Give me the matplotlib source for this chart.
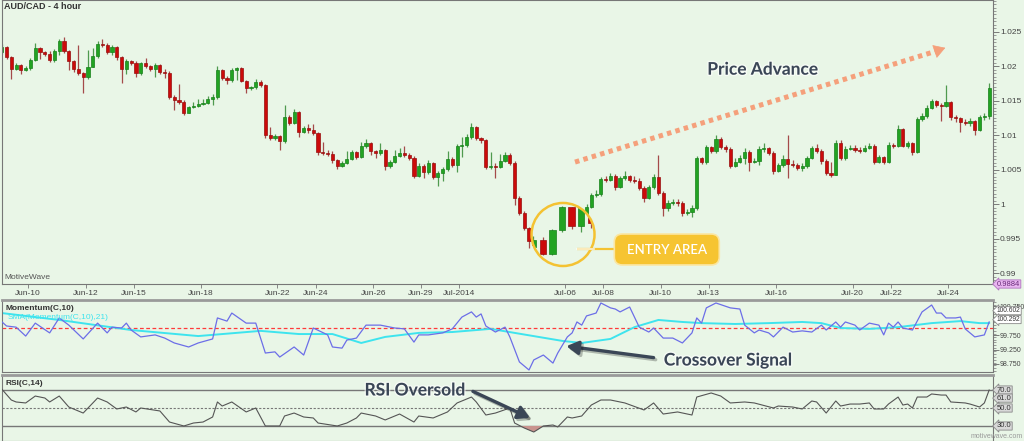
import numpy as np
import matplotlib.pyplot as plt
from matplotlib.patches import Ellipse, FancyBboxPatch
from matplotlib.ticker import FixedLocator, MultipleLocator, FuncFormatter
from matplotlib.transforms import blended_transform_factory
import matplotlib.patheffects as pe

plt.rcParams['font.family'] = ['Liberation Sans', 'DejaVu Sans']

# AUD/CAD 4 hour candles, one per bar index
first_open = 1.0221
closes = [1.0228, 1.0213, 1.0196, 1.0202, 1.0195, 1.0197, 1.0209, 1.0226, 1.0221, 1.0218,
          1.0209, 1.0222, 1.0237, 1.0222, 1.0208, 1.0196, 1.0190, 1.0184, 1.0199, 1.0215,
          1.0232, 1.0231, 1.0221, 1.0228, 1.0213, 1.0196, 1.0208, 1.0205, 1.0190, 1.0205,
          1.0200, 1.0196, 1.0202, 1.0192, 1.0190, 1.0155, 1.0151, 1.0148, 1.0132, 1.0141,
          1.0142, 1.0145, 1.0147, 1.0152, 1.0155, 1.0195, 1.0183, 1.0180, 1.0195, 1.0197,
          1.0179, 1.0168, 1.0170, 1.0177, 1.0173, 1.0100, 1.0096, 1.0099, 1.0092, 1.0126,
          1.0118, 1.0134, 1.0105, 1.0110, 1.0108, 1.0103, 1.0076, 1.0074, 1.0073, 1.0064,
          1.0055, 1.0060, 1.0065, 1.0076, 1.0068, 1.0084, 1.0089, 1.0077, 1.0074, 1.0079,
          1.0055, 1.0061, 1.0070, 1.0074, 1.0071, 1.0067, 1.0041, 1.0055, 1.0047, 1.0060,
          1.0039, 1.0045, 1.0051, 1.0065, 1.0057, 1.0084, 1.0086, 1.0097, 1.0112, 1.0096,
          1.0093, 1.0054, 1.0055, 1.0054, 1.0063, 1.0071, 1.0060, 1.0009, 0.9987, 0.9965,
          0.9947, 0.9941, 0.9942, 0.9947, 0.9952, 0.9942, 0.9959, 0.9976, 0.9962, 0.9975,
          0.9964, 0.9974, 0.9996, 1.0013, 1.0015, 1.0036, 1.0035, 1.0041, 1.0025, 1.0038,
          1.0041, 1.0035, 1.0034, 1.0023, 1.0009, 1.0025, 1.0039, 1.0016, 0.9994, 1.0002,
          1.0003, 1.0002, 0.9987, 0.9989, 0.9994, 1.0067, 1.0061, 1.0083, 1.0077, 1.0094,
          1.0083, 1.0080, 1.0055, 1.0061, 1.0067, 1.0076, 1.0061, 1.0063, 1.0080, 1.0081,
          1.0074, 1.0048, 1.0057, 1.0065, 1.0058, 1.0057, 1.0052, 1.0055, 1.0067, 1.0081,
          1.0077, 1.0063, 1.0045, 1.0042, 1.0089, 1.0067, 1.0080, 1.0081, 1.0079, 1.0077,
          1.0081, 1.0084, 1.0061, 1.0068, 1.0061, 1.0086, 1.0084, 1.0109, 1.0084, 1.0089,
          1.0076, 1.0123, 1.0128, 1.0139, 1.0150, 1.0144, 1.0142, 1.0148, 1.0126, 1.0125,
          1.0119, 1.0118, 1.0121, 1.0108, 1.0126, 1.0128, 1.0168]
highs = [1.0232, 1.0229, 1.0215, 1.0205, 1.0203, 1.0200, 1.0212, 1.0234, 1.0228, 1.0222,
         1.0222, 1.0225, 1.0239, 1.0242, 1.0224, 1.0209, 1.0231, 1.0192, 1.0224, 1.0226,
         1.0237, 1.0239, 1.0234, 1.0231, 1.0229, 1.0215, 1.0210, 1.0209, 1.0208, 1.0206,
         1.0212, 1.0202, 1.0205, 1.0203, 1.0196, 1.0193, 1.0158, 1.0174, 1.0151, 1.0142,
         1.0148, 1.0152, 1.0152, 1.0157, 1.0160, 1.0200, 1.0196, 1.0186, 1.0197, 1.0199,
         1.0199, 1.0180, 1.0171, 1.0181, 1.0180, 1.0174, 1.0112, 1.0102, 1.0100, 1.0144,
         1.0129, 1.0138, 1.0135, 1.0113, 1.0116, 1.0116, 1.0105, 1.0090, 1.0079, 1.0077,
         1.0065, 1.0063, 1.0077, 1.0079, 1.0077, 1.0090, 1.0094, 1.0090, 1.0079, 1.0089,
         1.0080, 1.0064, 1.0079, 1.0081, 1.0084, 1.0074, 1.0070, 1.0060, 1.0058, 1.0064,
         1.0061, 1.0048, 1.0054, 1.0077, 1.0068, 1.0087, 1.0097, 1.0102, 1.0118, 1.0113,
         1.0097, 1.0094, 1.0076, 1.0060, 1.0073, 1.0076, 1.0074, 1.0063, 1.0012, 0.9990,
         0.9967, 0.9954, 0.9948, 0.9951, 0.9955, 0.9954, 0.9960, 0.9977, 0.9976, 0.9976,
         0.9977, 0.9980, 1.0000, 1.0016, 1.0021, 1.0039, 1.0041, 1.0045, 1.0044, 1.0041,
         1.0048, 1.0042, 1.0041, 1.0038, 1.0026, 1.0028, 1.0044, 1.0071, 1.0019, 1.0006,
         1.0007, 1.0007, 1.0005, 0.9993, 0.9999, 1.0070, 1.0068, 1.0086, 1.0084, 1.0100,
         1.0097, 1.0086, 1.0083, 1.0067, 1.0071, 1.0081, 1.0079, 1.0067, 1.0084, 1.0089,
         1.0083, 1.0077, 1.0060, 1.0071, 1.0100, 1.0064, 1.0060, 1.0060, 1.0070, 1.0084,
         1.0087, 1.0080, 1.0065, 1.0061, 1.0093, 1.0093, 1.0084, 1.0086, 1.0086, 1.0083,
         1.0086, 1.0089, 1.0087, 1.0071, 1.0070, 1.0090, 1.0089, 1.0115, 1.0110, 1.0092,
         1.0090, 1.0126, 1.0132, 1.0144, 1.0152, 1.0151, 1.0147, 1.0173, 1.0150, 1.0129,
         1.0126, 1.0123, 1.0125, 1.0122, 1.0129, 1.0132, 1.0176]
lows = [1.0218, 1.0210, 1.0181, 1.0195, 1.0189, 1.0193, 1.0195, 1.0208, 1.0210, 1.0215,
        1.0206, 1.0206, 1.0216, 1.0219, 1.0195, 1.0192, 1.0187, 1.0161, 1.0181, 1.0199,
        1.0212, 1.0228, 1.0218, 1.0216, 1.0209, 1.0176, 1.0189, 1.0202, 1.0184, 1.0187,
        1.0197, 1.0193, 1.0184, 1.0189, 1.0183, 1.0152, 1.0137, 1.0145, 1.0129, 1.0132,
        1.0139, 1.0141, 1.0144, 1.0145, 1.0144, 1.0152, 1.0180, 1.0174, 1.0177, 1.0180,
        1.0177, 1.0161, 1.0166, 1.0167, 1.0170, 1.0096, 1.0093, 1.0093, 1.0079, 1.0089,
        1.0115, 1.0116, 1.0097, 1.0103, 1.0103, 1.0100, 1.0071, 1.0071, 1.0070, 1.0060,
        1.0051, 1.0054, 1.0058, 1.0064, 1.0065, 1.0067, 1.0081, 1.0071, 1.0067, 1.0071,
        1.0050, 1.0052, 1.0060, 1.0068, 1.0068, 1.0064, 1.0038, 1.0039, 1.0038, 1.0044,
        1.0036, 1.0026, 1.0034, 1.0048, 1.0054, 1.0047, 1.0068, 1.0083, 1.0094, 1.0093,
        1.0089, 1.0051, 1.0051, 1.0038, 1.0052, 1.0061, 1.0057, 0.9999, 0.9984, 0.9963,
        0.9936, 0.9936, 0.9938, 0.9941, 0.9945, 0.9941, 0.9941, 0.9958, 0.9960, 0.9958,
        0.9961, 0.9963, 0.9971, 0.9994, 1.0010, 1.0012, 1.0032, 1.0034, 1.0021, 1.0023,
        1.0035, 1.0032, 1.0031, 1.0021, 1.0003, 1.0007, 1.0022, 1.0013, 0.9983, 0.9990,
        0.9999, 0.9997, 0.9983, 0.9984, 0.9981, 0.9992, 1.0058, 1.0058, 1.0074, 1.0074,
        1.0080, 1.0076, 1.0052, 1.0054, 1.0060, 1.0058, 1.0048, 1.0060, 1.0057, 1.0076,
        1.0071, 1.0044, 1.0047, 1.0054, 1.0038, 1.0054, 1.0050, 1.0048, 1.0052, 1.0065,
        1.0074, 1.0058, 1.0042, 1.0039, 1.0042, 1.0064, 1.0064, 1.0079, 1.0076, 1.0074,
        1.0076, 1.0080, 1.0058, 1.0060, 1.0058, 1.0060, 1.0081, 1.0083, 1.0083, 1.0081,
        1.0071, 1.0074, 1.0121, 1.0125, 1.0138, 1.0141, 1.0121, 1.0141, 1.0122, 1.0119,
        1.0105, 1.0115, 1.0113, 1.0100, 1.0106, 1.0122, 1.0123]
opens = [first_open] + closes[:-1]   # forex bars open where the last one closed

date_ticks = [5.5, 17.5, 27.5, 41.5, 57.5, 65.5, 77.5, 87.5, 95.5, 117.5,
              125.5, 137.5, 147.5, 161.5, 177.5, 185.5, 197.5]
date_labels = ['Jun-10', 'Jun-12', 'Jun-15', 'Jun-18', 'Jun-22', 'Jun-24', 'Jun-26',
               'Jun-29', 'Jul-2014', 'Jul-06', 'Jul-08', 'Jul-10', 'Jul-13', 'Jul-16',
               'Jul-20', 'Jul-22', 'Jul-24']
price_ticks = [0.99, 0.995, 1.0, 1.005, 1.01, 1.015, 1.02, 1.025]

# Momentum(C,10) and its 21 bar SMA
mom_bar = [0, 1, 3, 5, 7, 10, 12, 14, 17, 20, 22, 23, 25, 26, 27, 29, 32, 34, 36, 39,
           41, 44, 45, 47, 48, 51, 53, 55, 57, 58, 61, 63, 65, 68, 69, 71, 72, 74, 76, 79,
           82, 84, 86, 87, 89, 92, 94, 96, 98, 99, 100, 101, 103, 105, 106, 108, 110, 111, 113, 115,
           116, 118, 119, 120, 121, 122, 124, 125, 127, 128, 129, 131, 133, 135, 136, 138, 140, 142, 144, 145,
           146, 147, 149, 152, 154, 155, 157, 158, 160, 161, 163, 165, 167, 169, 171, 172, 174, 175, 176, 178,
           179, 181, 183, 184, 185, 186, 187, 188, 190, 192, 194, 195, 196, 197, 199, 200, 201, 203, 205, 206]
mom_val = [100.22, 100.07, 100.03, 99.72, 100.17, 99.83, 100.35, 100.10, 99.62, 100.17,
           99.83, 100.03, 100.00, 100.17, 99.93, 99.69, 99.76, 99.65, 99.48, 99.34,
           99.48, 99.62, 100.35, 100.24, 100.52, 100.17, 100.17, 99.13, 99.17, 98.99,
           99.34, 99.06, 100.00, 99.76, 99.34, 99.30, 99.58, 99.65, 100.10, 100.10,
           100.00, 99.97, 99.51, 99.76, 99.76, 99.83, 99.97, 100.38, 100.56, 100.38,
           100.49, 100.07, 99.86, 100.03, 99.69, 98.82, 98.54, 98.89, 99.06, 98.78,
           99.13, 99.69, 99.83, 100.21, 100.10, 100.42, 100.52, 100.87, 100.70, 100.66,
           100.56, 100.73, 100.03, 99.86, 100.00, 99.65, 99.65, 99.48, 99.83, 100.35,
           100.17, 100.70, 100.87, 100.70, 100.66, 100.10, 99.83, 99.93, 99.83, 99.69,
           100.03, 99.86, 99.90, 99.86, 100.10, 99.93, 100.21, 100.03, 100.21, 100.10,
           99.93, 100.17, 100.10, 99.76, 100.17, 100.03, 100.21, 100.00, 99.93, 100.56,
           100.80, 100.52, 100.52, 100.35, 100.35, 100.38, 99.97, 99.69, 99.76, 100.21]
sma_bar = [0, 12, 27, 41, 54, 62, 69, 75, 80, 87, 94, 102, 107, 112, 117, 121,
           127, 132, 137, 142, 146, 153, 160, 167, 171, 175, 181, 187, 194, 200, 204, 206]
sma_val = [100.52, 100.28, 99.93, 99.72, 99.90, 99.79, 99.79, 99.48, 99.69, 99.83,
           99.86, 99.97, 99.83, 99.69, 99.55, 99.48, 99.62, 100.03, 100.28, 100.21,
           100.17, 100.14, 100.17, 100.21, 100.17, 100.00, 99.97, 100.03, 100.17, 100.24,
           100.17, 100.17]
mom_ticks = [98.75, 99.25, 99.75, 100.75]

# RSI(C,14)
rsi_bar = [0, 2, 3, 5, 7, 9, 10, 12, 14, 17, 20, 22, 24, 25, 26, 28, 29, 33, 35, 38,
           40, 42, 44, 45, 46, 48, 51, 53, 55, 58, 59, 61, 63, 65, 66, 70, 72, 74, 75, 78,
           80, 83, 86, 87, 90, 93, 95, 98, 99, 101, 103, 106, 107, 109, 111, 113, 115, 116, 118, 119,
           121, 123, 125, 127, 130, 134, 136, 138, 141, 144, 145, 148, 150, 152, 155, 157, 161, 162, 165, 167,
           169, 170, 172, 174, 175, 177, 179, 181, 182, 184, 185, 187, 188, 189, 190, 191, 193, 194, 196, 197,
           198, 201, 202, 204, 205, 206]
rsi_val = [71.1, 58.9, 56.7, 55.6, 63.3, 61.1, 56.7, 63.3, 51.1, 44.4,
           61.1, 56.7, 48.9, 50.0, 51.1, 45.6, 50.0, 46.7, 34.4, 30.0,
           33.3, 34.4, 40.0, 56.7, 52.2, 56.7, 45.6, 50.0, 30.0, 30.0,
           41.1, 44.4, 40.0, 38.9, 33.3, 30.0, 33.3, 38.9, 44.4, 41.1,
           36.7, 43.3, 34.4, 41.1, 38.9, 45.6, 55.6, 62.2, 56.7, 42.2,
           44.4, 50.0, 33.3, 27.8, 23.3, 30.0, 31.1, 28.9, 40.0, 38.9,
           41.1, 53.3, 58.9, 58.9, 55.6, 47.8, 55.6, 43.3, 45.6, 42.2,
           62.2, 66.7, 63.3, 55.6, 56.7, 55.6, 50.0, 52.2, 51.1, 48.9,
           57.8, 56.7, 44.4, 57.8, 52.2, 54.4, 54.4, 55.6, 48.9, 48.9,
           54.4, 62.2, 53.3, 54.4, 50.0, 62.2, 62.2, 65.6, 64.4, 64.4,
           56.7, 55.6, 54.4, 51.1, 55.6, 70.0]

BG = '#e9f6e7'
INK = '#3a4656'

fig = plt.figure(figsize=(10.24, 4.41), dpi=100, facecolor=BG)


def box(x0, y0, x1, y1):
    # pixel box of the 1024x441 picture -> figure fraction
    return [x0 / 1024, 1 - y1 / 441, (x1 - x0) / 1024, (y1 - y0) / 441]


ax = fig.add_axes(box(2, 0, 993, 284), facecolor=BG)
axm = fig.add_axes(box(2, 300, 993, 372), facecolor=BG, sharex=ax)
axr = fig.add_axes(box(2, 375, 993, 441), facecolor=BG, sharex=ax)

o = np.array(opens)
h = np.array(highs)
l = np.array(lows)
c = np.array(closes)
x = np.arange(len(c))


def candles(a, xs, o, h, l, c, width, min_h, z, clip=None):
    up = c >= o
    bot = np.minimum(o, c)
    top = np.maximum(o, c)
    hgt = np.maximum(top - bot, min_h)
    wk = a.vlines(xs, np.minimum(l, bot), np.maximum(h, top),
                  colors=np.where(up, '#4f9a4f', '#a44a4a'), lw=0.9, zorder=z)
    bars = a.bar(xs, hgt, width, bottom=bot, color=np.where(up, '#22a322', '#cc0a0a'),
                 edgecolor=np.where(up, '#17801a', '#961010'), lw=0.5, zorder=z + 0.1)
    if clip is not None:
        wk.set_clip_path(clip)
        for b in bars:
            b.set_clip_path(clip)


candles(ax, x, o, h, l, c, 0.66, 0.00007, 2)

# magnifier over the entry area (2x around the circle centre)
cx, cy, rx, ry, k = 117.1, 0.9956, 6.57, 0.00457, 2.0
lens = Ellipse((cx, cy), 2 * rx, 2 * ry, fc=BG, ec='none', zorder=3)
ax.add_patch(lens)
sel = slice(108, 127)
candles(ax, cx + k * (x[sel] - cx), cy + k * (o[sel] - cy), cy + k * (h[sel] - cy),
        cy + k * (l[sel] - cy), cy + k * (c[sel] - cy), 0.66 * k, 0.00014, 4, clip=lens)
ax.add_patch(Ellipse((cx, cy), 2 * rx, 2 * ry, fill=False, ec='#f4c232', lw=1.8, zorder=6))

# entry area callout
ax.plot([120.0, 127.8], [0.9935, 0.9935], color='#f4c232', lw=1.6, zorder=6,
        solid_capstyle='butt')
ax.plot([120.0, 123.5], [0.9935, 0.9935], color='white', lw=1.2, zorder=6, alpha=0.8)
ax.add_patch(FancyBboxPatch((127.8, 0.99118), 21.9, 0.00449,
                            boxstyle='round,pad=0,rounding_size=1.7', mutation_aspect=0.00069,
                            fc='#f6c431', ec='#fbe6a2', lw=1.2, zorder=7))
ax.text(138.7, 0.99338, 'ENTRY AREA', ha='center', va='center', color='white',
        fontsize=9.5, family=['Lato', 'DejaVu Sans'], weight='semibold', zorder=8)

# price advance arrow
ax.plot([119.6, 195.0], [1.0061, 1.0222], color='#f5a07b', lw=3.6,
        ls=(0, (0.9, 0.85)), zorder=5)
ax.annotate('', xy=(197.4, 1.0228), xytext=(194.5, 1.0221),
            arrowprops=dict(arrowstyle='-|>,head_length=0.75,head_width=0.45',
                            color='#f5a07b', lw=0.5), zorder=5)
ax.text(158.8, 1.0195, 'Price Advance', ha='center', va='center', color=INK,
        fontsize=12.5, family=['Lato', 'DejaVu Sans'], weight='bold', zorder=8,
        path_effects=[pe.withStroke(linewidth=2, foreground='white', alpha=0.6)])

ax.set_xlim(0.06, 206.8)
ax.set_ylim(0.98842, 1.0296)
ax.yaxis.tick_right()
ax.yaxis.set_major_locator(FixedLocator(price_ticks))
ax.yaxis.set_major_formatter(FuncFormatter(lambda v, p: f'{v:g}'))
ax.yaxis.set_minor_locator(MultipleLocator(0.0005))
ax.tick_params(axis='y', which='major', length=4, width=0.6, colors='#666',
               labelsize=6, pad=1, labelcolor='#444')
ax.tick_params(axis='y', which='minor', length=2, width=0.5, colors='#777')
ax.set_xticks(date_ticks)
ax.set_xticklabels(date_labels)
ax.tick_params(axis='x', length=3, width=0.6, colors='#777', labelsize=6, pad=1.5,
               labelcolor='#444')
ax.text(0.002, 0.992, 'AUD/CAD - 4 hour', transform=ax.transAxes, ha='left', va='top',
        fontsize=6.5, weight='bold', color='#333')
ax.text(0.002, 0.012, 'MotiveWave', transform=ax.transAxes, ha='left', va='bottom',
        fontsize=6, color='#555')


def tag(a, y, s, fc, ec, tc, size=5.5):
    a.text(1.004, y, s, transform=blended_transform_factory(a.transAxes, a.transData),
           fontsize=size, color=tc, ha='left', va='center', zorder=10, clip_on=False,
           bbox=dict(boxstyle='larrow,pad=0.08', fc=fc, ec=ec, lw=0.6))


tag(ax, 0.98842, '0.9884', '#e9b6f0', '#b070c0', '#6a2a7a')

# momentum panel
axm.plot(mom_bar, mom_val, color='#6c6ee8', lw=0.9, zorder=3)
axm.plot(sma_bar, sma_val, color='#3ee4ee', lw=1.4, zorder=2)
axm.axhline(100, color='#ff3a3a', lw=0.9, ls=(0, (3, 2)), zorder=1)
axm.set_ylim(98.47, 100.974)
axm.yaxis.tick_right()
axm.yaxis.set_major_locator(FixedLocator(mom_ticks))
axm.yaxis.set_major_formatter(FuncFormatter(lambda v, p: f'{v:.3f}'))
axm.yaxis.set_minor_locator(MultipleLocator(0.1))
axm.tick_params(axis='y', which='major', length=4, width=0.6, colors='#666',
                labelsize=5, pad=1, labelcolor='#444')
axm.tick_params(axis='y', which='minor', length=2, width=0.5, colors='#777')
axm.tick_params(axis='x', bottom=False, labelbottom=False)
axm.text(0.004, 0.93, 'Momentum(C,10)', transform=axm.transAxes, ha='left', va='top',
         fontsize=6, weight='bold', color='#333')
axm.text(0.006, 0.80, 'SMA(Momentum(C,10),21)', transform=axm.transAxes, ha='left',
         va='top', fontsize=6, color='#3ee4ee')
tag(axm, 100.602, '100.602', 'white', '#888', '#333', 4.8)
tag(axm, 100.292, '100.292', 'white', '#888', '#333', 4.8)
axm.annotate('', xy=(117.8, 99.37), xytext=(136.0, 98.97),
             arrowprops=dict(arrowstyle='-|>,head_length=0.7,head_width=0.4', color=INK,
                             lw=2.4, shrinkA=0, shrinkB=0,
                             path_effects=[pe.SimpleLineShadow(offset=(1.5, -1.5), alpha=0.25),
                                           pe.Normal()]),
             zorder=8)
axm.text(151.5, 98.87, 'Crossover Signal', ha='center', va='center', color=INK,
         fontsize=12.5, family=['Lato', 'DejaVu Sans'], weight='bold', zorder=8,
         path_effects=[pe.withStroke(linewidth=2, foreground='white', alpha=0.6)])

# RSI panel
axr.plot(rsi_bar, rsi_val, color='#555555', lw=0.8, zorder=3)
axr.fill_between(rsi_bar, rsi_val, 30, where=np.array(rsi_val) < 30, interpolate=True,
                 color='#c9948e', lw=0, zorder=2)
axr.axhline(70, color='#777', lw=1.0, zorder=1)
axr.axhline(30, color='#777', lw=1.0, zorder=1)
axr.axhline(50, color='#777', lw=0.8, ls=(0, (2, 1.5)), zorder=1)
axr.set_ylim(13.3, 86.7)
axr.yaxis.tick_right()
axr.set_yticks([])
axr.tick_params(axis='x', bottom=False, labelbottom=False)
axr.text(0.004, 0.93, 'RSI(C,14)', transform=axr.transAxes, ha='left', va='top',
         fontsize=6, weight='bold', color='#333')
for lv in [70, 61, 50, 30]:
    tag(axr, lv, f'{lv:.1f}', '#d8d8d8', '#888', '#333')
axr.annotate('', xy=(110.2, 39.0), xytext=(98.3, 68.5),
             arrowprops=dict(arrowstyle='-|>,head_length=0.7,head_width=0.4', color=INK,
                             lw=2.4, shrinkA=0, shrinkB=0,
                             path_effects=[pe.SimpleLineShadow(offset=(1.5, -1.5), alpha=0.25),
                                           pe.Normal()]),
             zorder=8)
axr.text(86.2, 69.5, 'RSI Oversold', ha='center', va='center', color=INK,
         fontsize=12.5, family=['Lato', 'DejaVu Sans'], weight='bold', zorder=8,
         path_effects=[pe.withStroke(linewidth=2, foreground='white', alpha=0.6)])
fig.text(0.999, 0.003, 'motivewave.com', ha='right', va='bottom', fontsize=5, color='#999')

for a in (ax, axm, axr):
    for s in a.spines.values():
        s.set_color('#777')
        s.set_linewidth(0.8)
for a in (axm, axr):
    a.spines['top'].set_color('#9a9a9a')
    a.spines['top'].set_linewidth(2.0)

fig.savefig('out.png', dpi=100, facecolor=BG)
